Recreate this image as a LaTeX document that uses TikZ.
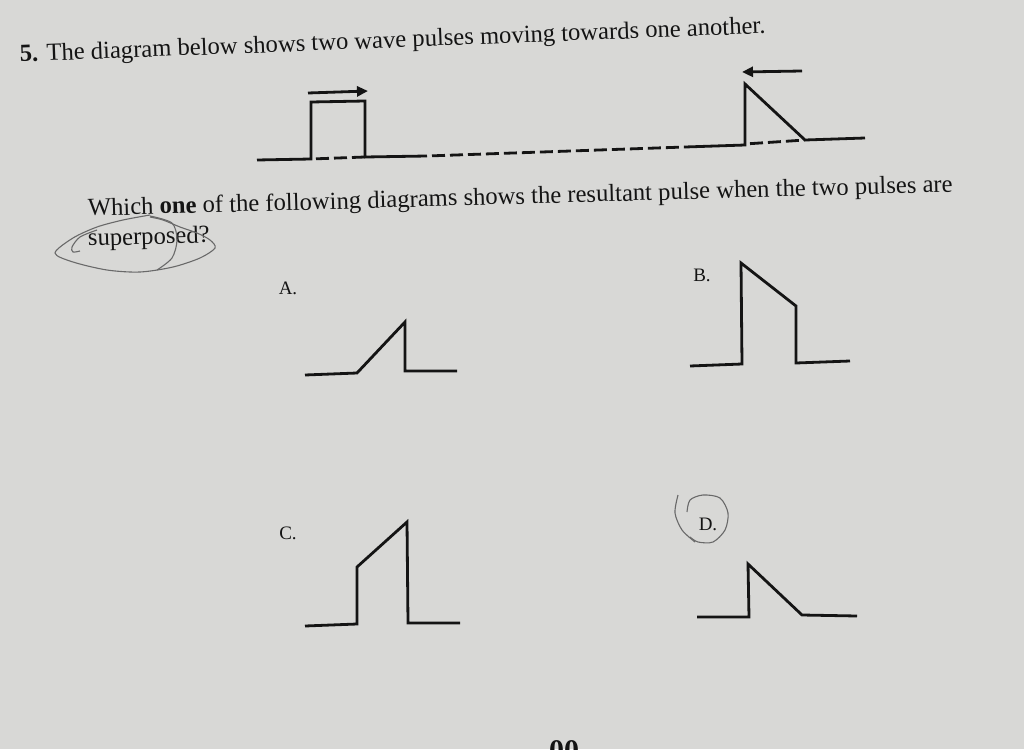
\documentclass[tikz,border=0pt]{standalone}
\usepackage{fontspec}
\setmainfont{Liberation Serif}
\usetikzlibrary{arrows.meta}
\definecolor{paper}{RGB}{216,216,214}
\definecolor{ink}{RGB}{20,20,20}
\definecolor{pencil}{RGB}{105,105,105}
\begin{document}
\begin{tikzpicture}[x=1pt,y=-1pt,
 wave/.style={draw=ink,line width=2.8pt, line join=miter},
 dashline/.style={draw=ink,line width=2.8pt, dash pattern=on 13pt off 5pt, dash phase=13pt},
 move/.style={draw=ink,line width=2.8pt,-{Triangle[length=11pt,width=10pt]}},
 pen/.style={draw=pencil,line width=1.1pt},
 qtext/.style={font=\fontsize{24.6}{29}\selectfont, text=ink, anchor=base west, inner sep=0pt},
 opt/.style={font=\fontsize{19}{22}\selectfont, text=ink, inner sep=0pt}]
\useasboundingbox (0,0) rectangle (1024,749);
\fill[paper] (0,0) rectangle (1024,749);
% texts
\node[qtext, rotate=2.2] (title) at (20,62) {\textbf{5.} The diagram below shows two wave pulses moving towards one another.};
\node[qtext, rotate=1.6] (q1) at (88,216) {Which \textbf{one} of the following diagrams shows the resultant pulse when the two pulses are};
\node[qtext, rotate=1.6] (q2) at (88,246) {superposed?};
% top diagram
\draw[wave] (257,160) -- (311,159) -- (311,102) -- (365,101) -- (365,157) -- (427,156);
\draw[dashline] (311,159) -- (365,157);
\draw[dashline] (427,156) -- (685,147);
\draw[wave] (685,147) -- (745,145) -- (745,84) -- (805,140) -- (865,138);
\draw[dashline] (745,144) -- (805,140);
\draw[move] (308,93) -- (368,91);
\draw[move] (802,71) -- (742,72);
% options
\node[opt] (A) at (288,288) {A.};
\draw[wave] (305,375) -- (357,373) -- (405,322) -- (405,371) -- (457,371);
\node[opt] (B) at (702,275) {B.};
\draw[wave] (690,366) -- (742,364) -- (741,263) -- (796,306) -- (796,363) -- (850,361);
\node[opt] (C) at (288,533) {C.};
\draw[wave] (305,626) -- (357,624) -- (357,567) -- (407,522) -- (408,623) -- (460,623);
\node[opt] (D) at (708,524) {D.};
\draw[wave] (697,617) -- (749,617) -- (748,564) -- (802,615) -- (857,616);
% pencil marks around D
\draw[pen] plot[smooth] coordinates {(687,512) (690,500) (703,495) (720,498) (728,513) (725,530) (713,542) (698,542) (690,537)};
\draw[pen] plot[smooth] coordinates {(678,495) (675,513) (682,530) (695,542)};
% pencil marks around "superposed?"
\draw[pen] plot[smooth] coordinates {(150,215) (123,220) (97,227) (73,238) (55,253) (73,262) (107,270) (140,272) (173,267) (200,258) (215,248) (210,240) (197,233) (180,227) (163,220) (150,217)};
\draw[pen] plot[smooth] coordinates {(97,230) (80,237) (72,247) (73,252) (80,251)};
\draw[pen] plot[smooth] coordinates {(150,216) (172,223) (177,240) (172,258) (157,270)};
% cut-off page number
\node[font=\fontsize{30}{34}\selectfont\bfseries, text=ink, anchor=north, inner sep=0pt] (pg) at (564,740) {00};
\end{tikzpicture}
\end{document}
